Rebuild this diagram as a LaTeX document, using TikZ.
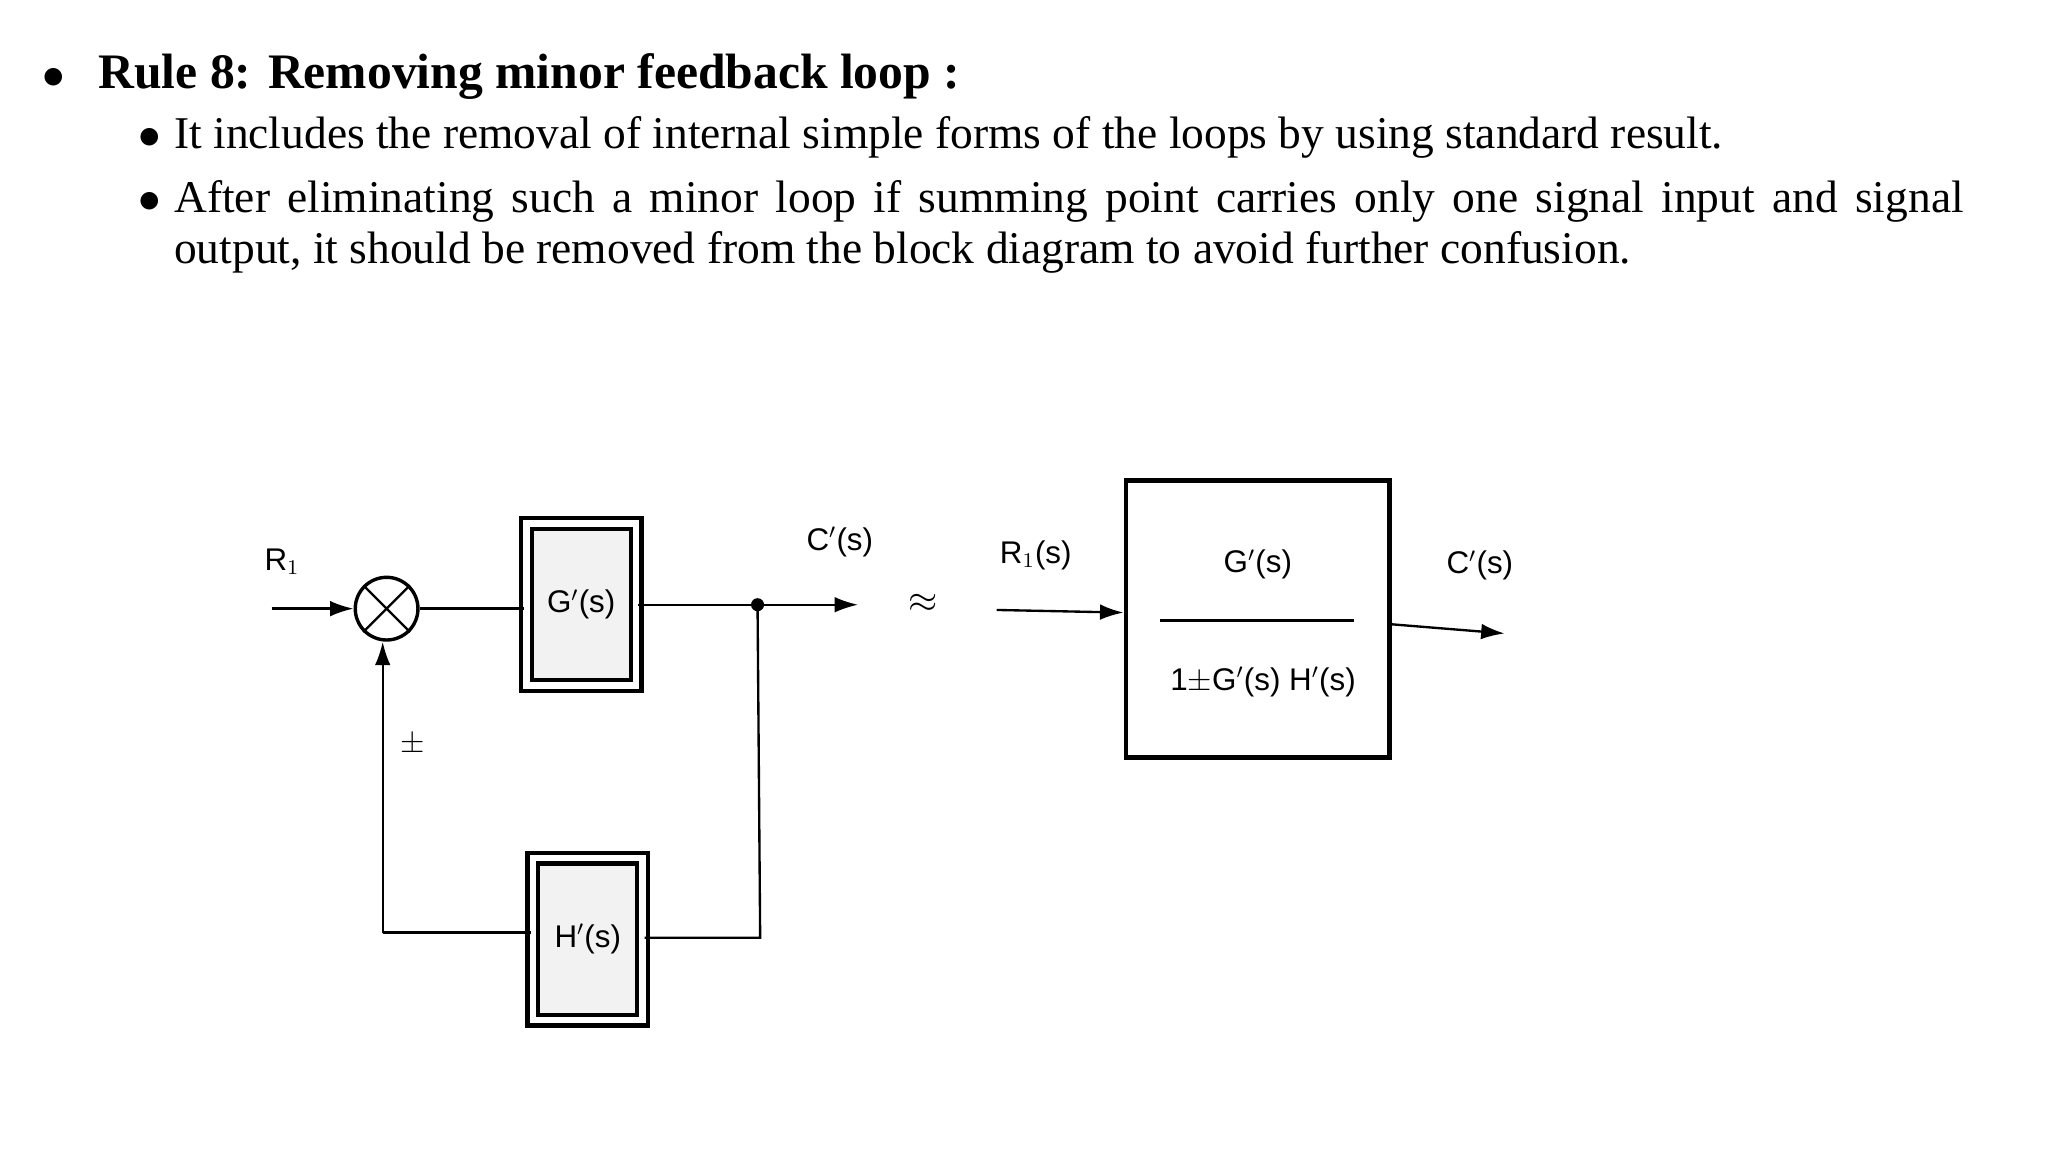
\documentclass[tikz,border=0pt]{standalone}
\usepackage{fontspec}
\setmainfont{Liberation Serif}
\newfontfamily\dsans{Liberation Sans}
\usetikzlibrary{arrows.meta}
\begin{document}
\begin{tikzpicture}[x=0.5pt,y=-0.5pt,
  txt/.style={anchor=base west,inner sep=0,font=\fontsize{17.4}{19.5}\selectfont},
  lbl/.style={font=\dsans\fontsize{12}{14}\selectfont,inner sep=1pt},
  blk/.style={draw,line width=1.6pt,double,double distance=2.5pt,fill=gray!10},
  sig/.style={line width=0.9pt},
  arr/.style={sig,-{Latex[length=9pt,width=6pt]}}]
\useasboundingbox (0,0) rectangle (1568,882);
% text
\node[txt,font=\fontsize{17}{20}\selectfont] (b0) at (32,68) {$\bullet$};
\node[txt,font=\bfseries\fontsize{19}{22}\selectfont] (t0) at (75,68) {Rule 8: Removing minor feedback loop :};
\node[txt] (b1) at (106,114) {$\bullet$};
\node[txt] (t1) at (133,114) {It includes the removal of internal simple forms of the loops by using standard result.};
\node[txt] (b2) at (106,163) {$\bullet$};
\node[txt,text width=685pt,align=justify] (t2) at (133,163) {After eliminating such a minor loop if summing point carries only one signal input and signal\linebreak output, it should be removed from the block diagram to avoid further confusion.};
% left diagram
\node[draw,sig,line width=1.3pt,circle,minimum size=24pt,inner sep=0] (sum) at (296,466) {};
\draw[sig] (sum.north west)--(sum.south east) (sum.north east)--(sum.south west);
\node[blk,minimum width=42pt,minimum height=62pt] (G) at (445,463) {};
\node[lbl] at (G) {G$'$(s)};
\node[blk,minimum width=42pt,minimum height=62pt] (H) at (450,719) {};
\node[lbl] at (H) {H$'$(s)};
\coordinate (in) at (208,466);
\node[lbl] (R1) at (216,430) {R$_1$};
\fill (580,463) circle (5) coordinate (dot);
\coordinate (out) at (657,463);
\coordinate (br) at (582,718);
\coordinate (bl) at (293,714);
\draw[arr] (in)--(sum.west);
\draw[sig] (sum.east)--(G.west|-sum.east);
\draw[sig] (G.east|-dot)--(dot);
\draw[arr] (dot)--(out);
\node[lbl] (C1) at (643,415) {C$'$(s)};
\draw[sig] (dot)--(br)--(H.east|-br);
\draw[sig] (H.west|-bl)--(bl);
\draw[arr] (bl)--(bl|-sum.south);
\node[lbl] (pm) at (316,570) {$\pm$};
\node[lbl,font=\fontsize{14}{16}\selectfont] (ap) at (707,462) {$\approx$};
% right diagram
\node[draw,line width=1.8pt,minimum width=101pt,minimum height=106pt] (B) at (963,474) {};
\node[lbl] (num) at (963,432) {G$'$(s)};
\draw[sig] (888,475)--(1037,475);
\node[lbl] (den) at (967,522) {1$\pm$G$'$(s) H$'$(s)};
\coordinate (in2) at (763,467);
\coordinate (out2) at (1152,485);
\draw[arr] (in2)--(B.west|-0,469);
\draw[arr] (B.east|-0,478)--(out2);
\node[lbl] (R1s) at (793,425) {R$_1$(s)};
\node[lbl] (C2) at (1133,433) {C$'$(s)};
\end{tikzpicture}
\end{document}
